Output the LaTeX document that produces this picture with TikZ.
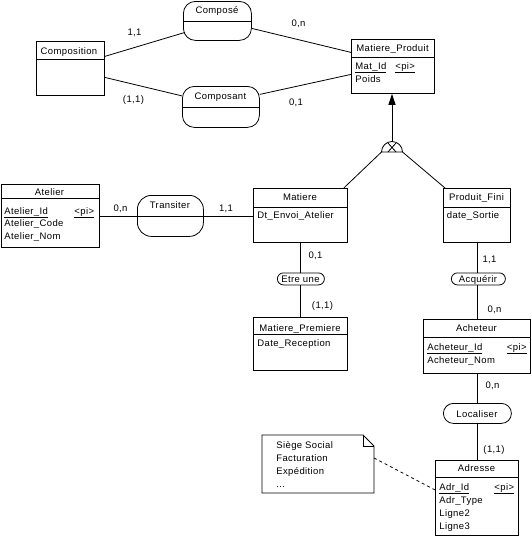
\documentclass[tikz,border=0pt]{standalone}
\usepackage{fontspec}
\setmainfont{Liberation Sans}[LetterSpace=4]
\usetikzlibrary{arrows.meta,calc}
\begin{document}
\begin{tikzpicture}[x=1pt,y=-1pt,line width=0.8pt,
  font=\fontsize{9.5}{11}\selectfont,
  ent/.style={draw,rectangle,inner sep=0pt,anchor=north west},
  assoc/.style={draw,rectangle,inner sep=0pt,anchor=north west,rounded corners=#1},
  ttl/.style={inner sep=0pt,anchor=base},
  att/.style={inner sep=0pt,anchor=base west},
  pik/.style={inner sep=0pt,anchor=base east},
  card/.style={inner sep=0pt,anchor=base},
  conn/.style={draw},
  notelink/.style={draw,dash pattern=on 3pt off 3pt}]
\useasboundingbox (0,0) rectangle (531,536);

% ---------- entities ----------
\node[ent,minimum width=68pt,minimum height=54pt] (composition) at (36,41) {};
\draw (36,59) -- (104,59);
\node[ttl] (tcomposition) at (69,54) {Composition};

\node[ent,minimum width=83pt,minimum height=54pt] (matprod) at (351,39) {};
\draw (351,57) -- (434,57);
\node[ttl] (tmatprod) at (392.5,51.5) {Matiere\_Produit};
\node[att] (amatid) at (355,69) {\underline{Mat\_Id}};
\node[att] (amatpi) at (395,69) {\underline{<pi>}};
\node[att] (apoids) at (355,82.5) {Poids};

\node[ent,minimum width=98pt,minimum height=63pt] (atelier) at (0.5,184) {};
\draw (0.5,198) -- (98.5,198);
\node[ttl] (tatelier) at (49.5,195) {Atelier};
\node[att] (aatid) at (4,214) {\underline{Atelier\_Id}};
\node[pik] (aatpi) at (94.5,214) {\underline{<pi>}};
\node[att] (aatcode) at (4,226.5) {Atelier\_Code};
\node[att] (aatnom) at (4,239.5) {Atelier\_Nom};

\node[ent,minimum width=94pt,minimum height=54pt] (matiere) at (253,188) {};
\draw (253,207) -- (347,207);
\node[ttl] (tmatiere) at (300,200.5) {Matiere};
\node[att] (adtenvoi) at (257,218) {Dt\_Envoi\_Atelier};

\node[ent,minimum width=67pt,minimum height=54pt] (prodfini) at (443,188) {};
\draw (443,207) -- (510,207);
\node[ttl] (tprodfini) at (476.5,200.5) {Produit\_Fini};
\node[att] (adatesortie) at (446.5,218) {date\_Sortie};

\node[ent,minimum width=94pt,minimum height=53pt] (matprem) at (253,317) {};
\draw (253,334) -- (347,334);
\node[ttl] (tmatprem) at (300,331) {Matiere\_Premiere};
\node[att] (adaterec) at (257,346) {Date\_Reception};

\node[ent,minimum width=107pt,minimum height=54pt] (acheteur) at (423,319) {};
\draw (423,337) -- (530,337);
\node[ttl] (tacheteur) at (476.5,331.5) {Acheteur};
\node[att] (aachid) at (427,350) {\underline{Acheteur\_Id}};
\node[pik] (aachpi) at (527,350) {\underline{<pi>}};
\node[att] (aachnom) at (427,363) {Acheteur\_Nom};

\node[ent,minimum width=83pt,minimum height=75pt] (adresse) at (435,460) {};
\draw (435,477) -- (518,477);
\node[ttl] (tadresse) at (476.5,471.5) {Adresse};
\node[att] (aadrid) at (439,490) {\underline{Adr\_Id}};
\node[pik] (aadrpi) at (514.5,490) {\underline{<pi>}};
\node[att] (aadrtype) at (439,503) {Adr\_Type};
\node[att] (aligne2) at (439,516) {Ligne2};
\node[att] (aligne3) at (439,529) {Ligne3};

% ---------- associations ----------
\node[assoc=12pt,minimum width=68pt,minimum height=39pt] (compose) at (183,1) {};
\draw (compose.west) -- (compose.east);
\node[ttl] (tcompose) at (217,13.5) {Composé};

\node[assoc=12pt,minimum width=77pt,minimum height=41pt] (composant) at (182,86) {};
\draw (composant.west) -- (composant.east);
\node[ttl] (tcomposant) at (220.5,99.5) {Composant};

\node[assoc=14pt,minimum width=66pt,minimum height=41pt] (transiter) at (137,195) {};
\draw (transiter.west) -- (transiter.east);
\node[ttl] (ttransiter) at (170,208.5) {Transiter};

\node[assoc=6pt,minimum width=47pt,minimum height=12pt] (etreune) at (277,272.5) {};
\node[ttl] (tetreune) at (300.5,282.5) {Etre une};

\node[assoc=6pt,minimum width=54pt,minimum height=12pt] (acquerir) at (451,272.5) {};
\node[ttl] (tacquerir) at (478,282.5) {Acquérir};

\node[assoc=10pt,minimum width=68pt,minimum height=20pt] (localiser) at (443,403) {};
\node[ttl] (tlocaliser) at (477,417) {Localiser};

% ---------- inheritance ----------
\coordinate (inh) at (392,152);
\coordinate (inhL) at (381.5,152);
\coordinate (inhR) at (402.5,152);
\coordinate (inhT) at (392,141.5);
\draw (inhL) arc[start angle=180,end angle=360,radius=10.5] -- cycle;
\draw (388,143) -- (396,152) (396,143) -- (388,152);
\draw[-{Triangle[length=11pt,width=7pt]}] (inhT) -- (inhT |- matprod.south);
\draw[conn] (inhL) -- ([xshift=-4pt]matiere.north east);
\draw[conn] (inhR) -- ([xshift=2pt]prodfini.north west);

% ---------- connectors ----------
\draw[conn] ([yshift=12pt]composition.east) -- ([xshift=2pt,yshift=-11.5pt]compose.west);
\draw[conn] ([yshift=-7.5pt]compose.east) -- ([yshift=14pt]matprod.west);
\draw[conn] ([yshift=-9pt]composition.east) -- ([yshift=11pt]composant.west);
\draw[conn] ([yshift=12.5pt]composant.east) -- ([yshift=-8pt]matprod.west);

\draw[conn] (atelier.east) -- (transiter.west);
\draw[conn] (transiter.east) -- (transiter.east -| matiere.west);

\draw[conn] (matiere.south) -- (matiere.south |- etreune.north);
\draw[conn] (matiere.south |- etreune.south) -- (matprem.north);

\coordinate (pfx) at (477,242);
\draw[conn] (pfx) -- (pfx |- acquerir.north);
\draw[conn] (pfx |- acquerir.south) -- (pfx |- acheteur.north);
\draw[conn] (pfx |- acheteur.south) -- (pfx |- localiser.north);
\draw[conn] (pfx |- localiser.south) -- (pfx |- adresse.north);

% ---------- cardinalities ----------
\node[card] (c1) at (134.5,35) {1,1};
\node[card] (c2) at (133.5,102) {(1,1)};
\node[card] (c3) at (298.5,26) {0,n};
\node[card] (c4) at (296,105) {0,1};
\node[card] (c5) at (120.5,211) {0,n};
\node[card] (c6) at (226,211.5) {1,1};
\node[card] (c7) at (315.5,258.5) {0,1};
\node[card] (c8) at (322.5,308.5) {(1,1)};
\node[card] (c9) at (489.5,262) {1,1};
\node[card] (c10) at (494.5,312) {0,n};
\node[card] (c11) at (492.5,388) {0,n};
\node[card] (c12) at (494,452) {(1,1)};

% ---------- note ----------
\draw (262,435) -- (363,435) -- (374,446) -- (374,493) -- (262,493) -- cycle;
\draw (363,435) -- (363,446) -- (374,446);
\node[att] (n1) at (276,448) {Siège Social};
\node[att] (n2) at (276,461.5) {Facturation};
\node[att] (n3) at (276,474.5) {Expédition};
\node[att] (n4) at (276,487) {...};
\coordinate (noteR) at (374,458);
\draw[notelink] (noteR) -- ([yshift=8pt]adresse.west);
\end{tikzpicture}
\end{document}
